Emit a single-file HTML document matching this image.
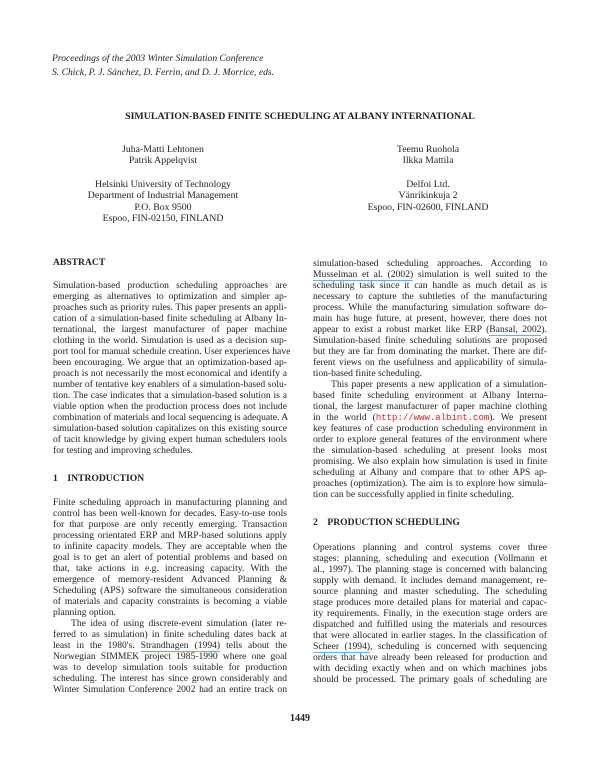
<!DOCTYPE html>
<html><head><meta charset="utf-8"><style>
body{margin:0;width:600px;height:776px;background:#fff;position:relative;overflow:hidden;font-family:"Liberation Serif",serif;color:#222;}
.a{position:absolute;white-space:nowrap;}
.col{position:absolute;width:234px;font-size:9.6px;line-height:11px;}
.col div{white-space:nowrap;text-align:justify;text-align-last:justify;height:11px;}
.col div.l{text-align-last:left;}
.col div.i{padding-left:18px;}
.c{position:absolute;text-align:center;font-size:9.8px;line-height:11.3px;width:240px;}
u{text-decoration:none;border-bottom:1px solid #6ab0e8;}
.url{color:#e02020;font-family:"Liberation Mono",monospace;font-size:9px;}
</style></head><body>
<div class="a" style="left:52px;top:52px;font-style:italic;font-size:9.6px;line-height:13.5px;">Proceedings of the 2003 Winter Simulation Conference<br>S. Chick, P. J. Sánchez, D. Ferrin, and D. J. Morrice, eds.</div>
<div class="a" style="left:0;width:600px;text-align:center;top:111px;font-weight:bold;font-size:9.9px;">SIMULATION-BASED FINITE SCHEDULING AT ALBANY INTERNATIONAL</div>
<div class="c" style="left:43px;top:144px;">Juha-Matti Lehtonen<br>Patrik Appelqvist</div>
<div class="c" style="left:43px;top:179px;">Helsinki University of Technology<br>Department of Industrial Management<br>P.O. Box 9500<br>Espoo, FIN-02150, FINLAND</div>
<div class="c" style="left:308px;top:144px;">Teemu Ruohola<br>Ilkka Mattila</div>
<div class="c" style="left:308px;top:179px;">Delfoi Ltd.<br>Vänrikinkuja 2<br>Espoo, FIN-02600, FINLAND</div>

<div class="a" style="left:53px;top:257px;font-weight:bold;font-size:9.6px;">ABSTRACT</div>
<div class="col" style="left:53px;top:280px;">
<div>Simulation-based production scheduling approaches are</div>
<div>emerging as alternatives to optimization and simpler ap-</div>
<div>proaches such as priority rules. This paper presents an appli-</div>
<div>cation of a simulation-based finite scheduling at Albany In-</div>
<div>ternational, the largest manufacturer of paper machine</div>
<div>clothing in the world. Simulation is used as a decision sup-</div>
<div>port tool for manual schedule creation. User experiences have</div>
<div>been encouraging. We argue that an optimization-based ap-</div>
<div>proach is not necessarily the most economical and identify a</div>
<div>number of tentative key enablers of a simulation-based solu-</div>
<div>tion. The case indicates that a simulation-based solution is a</div>
<div>viable option when the production process does not include</div>
<div>combination of materials and local sequencing is adequate. A</div>
<div>simulation-based solution capitalizes on this existing source</div>
<div>of tacit knowledge by giving expert human schedulers tools</div>
<div class="l">for testing and improving schedules.</div>
</div>
<div class="a" style="left:53px;top:473px;font-weight:bold;font-size:9.6px;">1&nbsp;&nbsp;&nbsp;&nbsp;INTRODUCTION</div>
<div class="col" style="left:53px;top:497px;">
<div>Finite scheduling approach in manufacturing planning and</div>
<div>control has been well-known for decades. Easy-to-use tools</div>
<div>for that purpose are only recently emerging. Transaction</div>
<div>processing orientated ERP and MRP-based solutions apply</div>
<div>to infinite capacity models. They are acceptable when the</div>
<div>goal is to get an alert of potential problems and based on</div>
<div>that, take actions in e.g. increasing capacity. With the</div>
<div>emergence of memory-resident Advanced Planning &amp;</div>
<div>Scheduling (APS) software the simultaneous consideration</div>
<div>of materials and capacity constraints is becoming a viable</div>
<div class="l">planning option.</div>
<div class="i">The idea of using discrete-event simulation (later re-</div>
<div>ferred to as simulation) in finite scheduling dates back at</div>
<div>least in the 1980's. <u>Strandhagen (1994)</u> tells about the</div>
<div>Norwegian SIMMEK project 1985-1990 where one goal</div>
<div>was to develop simulation tools suitable for production</div>
<div>scheduling. The interest has since grown considerably and</div>
<div>Winter Simulation Conference 2002 had an entire track on</div>
</div>

<div class="col" style="left:313px;top:258px;">
<div>simulation-based scheduling approaches. According to</div>
<div><u>Musselman et al. (2002)</u> simulation is well suited to the</div>
<div>scheduling task since it can handle as much detail as is</div>
<div>necessary to capture the subtleties of the manufacturing</div>
<div>process. While the manufacturing simulation software do-</div>
<div>main has huge future, at present, however, there does not</div>
<div>appear to exist a robust market like ERP (<u>Bansal, 2002</u>).</div>
<div>Simulation-based finite scheduling solutions are proposed</div>
<div>but they are far from dominating the market. There are dif-</div>
<div>ferent views on the usefulness and applicability of simula-</div>
<div class="l">tion-based finite scheduling.</div>
<div class="i">This paper presents a new application of a simulation-</div>
<div>based finite scheduling environment at Albany Interna-</div>
<div>tional, the largest manufacturer of paper machine clothing</div>
<div>in the world (<span class="url">http://www.albint.com</span>). We present</div>
<div>key features of case production scheduling environment in</div>
<div>order to explore general features of the environment where</div>
<div>the simulation-based scheduling at present looks most</div>
<div>promising. We also explain how simulation is used in finite</div>
<div>scheduling at Albany and compare that to other APS ap-</div>
<div>proaches (optimization). The aim is to explore how simula-</div>
<div class="l">tion can be successfully applied in finite scheduling.</div>
</div>
<div class="a" style="left:313px;top:517px;font-weight:bold;font-size:9.6px;">2&nbsp;&nbsp;&nbsp;&nbsp;PRODUCTION SCHEDULING</div>
<div class="col" style="left:313px;top:542px;">
<div>Operations planning and control systems cover three</div>
<div>stages: planning, scheduling and execution (Vollmann et</div>
<div>al., 1997). The planning stage is concerned with balancing</div>
<div>supply with demand. It includes demand management, re-</div>
<div>source planning and master scheduling. The scheduling</div>
<div>stage produces more detailed plans for material and capac-</div>
<div>ity requirements. Finally, in the execution stage orders are</div>
<div>dispatched and fulfilled using the materials and resources</div>
<div>that were allocated in earlier stages. In the classification of</div>
<div><u>Scheer (1994)</u>, scheduling is concerned with sequencing</div>
<div>orders that have already been released for production and</div>
<div>with deciding exactly when and on which machines jobs</div>
<div>should be processed. The primary goals of scheduling are</div>
</div>

<div class="a" style="left:0;width:600px;text-align:center;top:713px;font-weight:bold;font-size:10px;">1449</div>
</body></html>
